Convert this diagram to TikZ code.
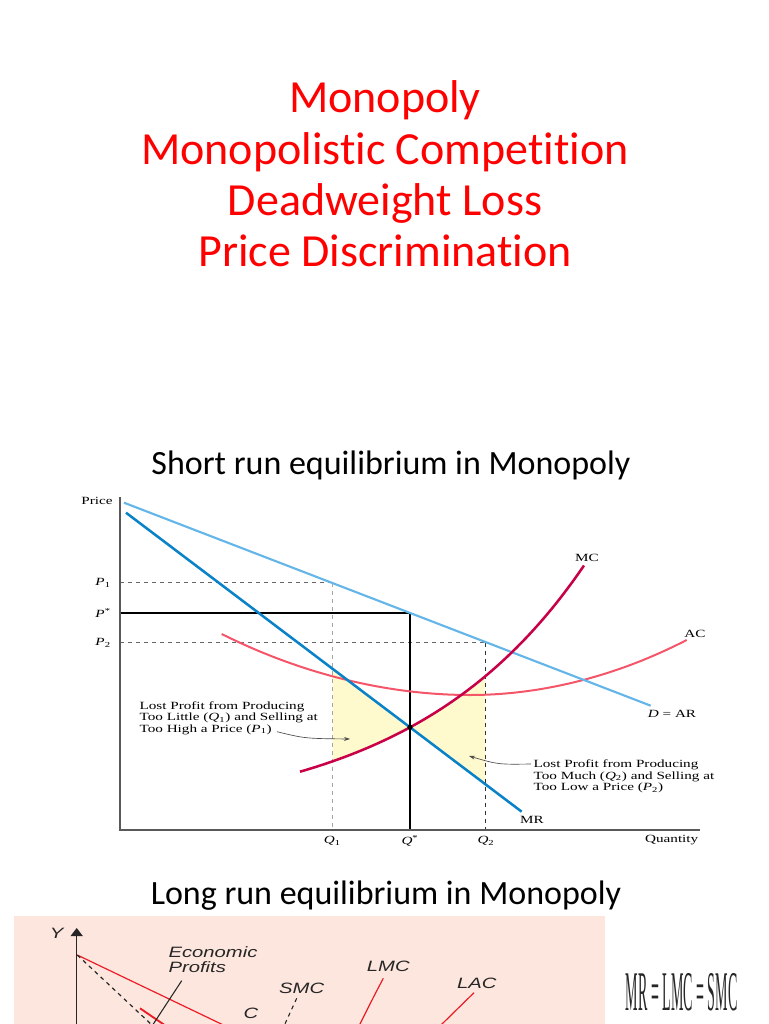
\documentclass[tikz,border=0pt]{standalone}
\usepackage{fontspec}
\setmainfont{Carlito}[Ligatures={NoCommon}]
\newfontfamily\graphfont[FakeStretch=1.38]{Liberation Serif}
\newfontfamily\longfont[FakeStretch=1.35]{Liberation Sans}
\newfontfamily\eqfont[FakeStretch=0.25]{Liberation Serif}
\usetikzlibrary{arrows.meta}

\definecolor{titlered}{RGB}{255,0,0}
\definecolor{demandblue}{RGB}{100,182,232}
\definecolor{mrblue}{RGB}{10,130,200}
\definecolor{mccrimson}{RGB}{200,0,72}
\definecolor{acpink}{RGB}{245,85,105}
\definecolor{lossyellow}{RGB}{255,250,205}
\definecolor{lrpink}{RGB}{253,230,222}
\definecolor{lrred}{RGB}{235,30,40}

\tikzset{
  titletext/.style={text=titlered, font=\fontsize{34.5}{38}\selectfont, inner sep=0pt},
  subtitle/.style={font=\fontsize{25.5}{30}\selectfont, inner sep=0pt},
  glabel/.style={font=\graphfont\fontsize{8.25}{8.8}\selectfont, inner sep=0.75pt},
  note/.style={glabel, align=left, inner sep=0pt},
  pointer/.style={draw=black!70, line width=0.5pt, -{Stealth[length=4.5pt,width=3pt]}},
  lrlabel/.style={font=\longfont\itshape\fontsize{11.25}{11.25}\selectfont, text=black!85, inner sep=0.75pt},
}

\begin{document}
\begin{tikzpicture}[x=0.75pt,y=0.75pt,yscale=-1,xscale=1,
  declare function={mr(\x)=512.7+0.7556*(\x-126); mc(\x)=771.7-50.7*(exp((\x-300)/175)-1);}]
\useasboundingbox (0,0) rectangle (768,1024);

% Text Node
\draw (385,113) node (title1) [anchor=base, titletext] {Monopoly};
% Text Node
\draw (385,164) node (title2) [anchor=base, titletext] {Monopolistic Competition};
% Text Node
\draw (385,215) node (title3) [anchor=base, titletext] {Deadweight Loss};
% Text Node
\draw (385,266) node (title4) [anchor=base, titletext] {Price Discrimination};
% Text Node
\draw (391,474) node (shortrun) [anchor=base, subtitle] {Short run equilibrium in Monopoly};

%Shape: deadweight loss between MR and MC
\fill [lossyellow] (332.3,{mr(332.3)}) -- (485,{mr(485)}) -- plot [domain=485:332.3, samples=40] (\x,{mc(\x)}) -- cycle ;

%Straight Lines: dashed guides
\draw [black!60, dashed, line width=0.6pt] (120,582.7) -- (332.3,582.7) ;
\draw [black!35, dashed, line width=0.6pt] (332.3,582.7) -- (332.3,830) ;
\draw [black!60, dashed, line width=0.6pt] (120,642.7) -- (485,642.7) ;
\draw [black!80, dashed, line width=0.6pt] (485,642.7) -- (485,830) ;
%Straight Lines: P* and Q*
\draw [black, line width=1.5pt] (120,613.3) -- (410,613.3) -- (410,830) ;

%Straight Lines: axes
\draw [black!65, line width=1.1pt] (120,497) -- (120,830) -- (700,830) ;

%Curve Lines: AC
\draw [acpink, line width=1.5pt] (221.7,634) parabola bend (470,695) (686.7,640) ;
%Straight Lines: D = AR
\draw [demandblue, line width=1.6pt] (124,502.7) -- (650.7,705.7) ;
%Straight Lines: MR
\draw [mrblue, line width=1.9pt] (126,512.7) -- (521.7,811.7) ;
%Curve Lines: MC
\draw [mccrimson, line width=1.9pt] plot [domain=300:584, samples=60] (\x,{mc(\x)}) ;
%Shape: Circle
\fill (410,727.3) circle (2.6) ;

% Text Node
\draw (97,501) node (pricelbl) [glabel] {Price};
% Text Node
\draw (112,582.7) node (p1lbl) [anchor=east, glabel] {\textit{P}\textsubscript{1}};
% Text Node
\draw (112,613.3) node (pstarlbl) [anchor=east, glabel] {\textit{P}\textsuperscript{*}};
% Text Node
\draw (112,642.7) node (p2lbl) [anchor=east, glabel] {\textit{P}\textsubscript{2}};
% Text Node
\draw (332.3,841) node (q1lbl) [glabel] {\textit{Q}\textsubscript{1}};
% Text Node
\draw (410,841) node (qstarlbl) [glabel] {\textit{Q}\textsuperscript{*}};
% Text Node
\draw (486,841) node (q2lbl) [glabel] {\textit{Q}\textsubscript{2}};
% Text Node
\draw (671.7,840) node (qtylbl) [glabel] {Quantity};
% Text Node
\draw (587,558) node (mclbl) [glabel] {MC};
% Text Node
\draw (695,634) node (aclbl) [glabel] {AC};
% Text Node
\draw (672,714.3) node (arlbl) [glabel] {\textit{D} = AR};
% Text Node
\draw (532,820) node (mrlbl) [glabel] {MR};

% Text Node
\draw (139.3,701) node (lostlittle) [anchor=north west, note] {Lost Profit from Producing\\Too Little (\textit{Q}\textsubscript{1}) and Selling at\\Too High a Price (\textit{P}\textsubscript{1})};
% Text Node
\draw (533.3,759.5) node (lostmuch) [anchor=north west, note] {Lost Profit from Producing\\Too Much (\textit{Q}\textsubscript{2}) and Selling at\\Too Low a Price (\textit{P}\textsubscript{2})};
%Curve Lines: pointers
\coordinate (littlefrom) at (277,731.7) ;
\coordinate (littleto) at (350,739) ;
\draw [pointer] (littlefrom) .. controls (305,738.5) .. (littleto) ;
\coordinate (muchfrom) at (531,764) ;
\coordinate (muchto) at (469,756) ;
\draw [pointer] (muchfrom) .. controls (498,764.5) .. (muchto) ;

% Text Node
\draw (386,904) node (longrun) [anchor=base, subtitle] {Long run equilibrium in Monopoly};

%Shape: Rectangle
\fill [lrpink] (14,916) rectangle (605,1030) ;
%Straight Lines: Y axis
\draw [black!85, line width=0.9pt, -{Triangle[width=9pt,length=6pt]}] (76.7,1030) -- (76.7,928) ;
%Straight Lines: demand
\draw [lrred, line width=0.9pt] (77.3,955) -- (224,1025.3) ;
\draw [black!85, dashed, line width=0.9pt] (77.3,955) -- (152.5,1025.5) ;
\draw [lrred, line width=1.4pt] (140,1008.3) -- (166,1026) ;
%Straight Lines: leader
\draw [black!85, line width=0.8pt] (181.7,980.7) -- (152,1026) ;
%Straight Lines: SMC
\draw [black!85, dashed, line width=0.8pt] (296.7,998.3) -- (284,1026) ;
%Curve Lines: LMC, LAC
\draw [lrred, line width=0.9pt] (383.3,978.3) .. controls (374,996) .. (359,1026) ;
\draw [lrred, line width=0.9pt] (474,992.7) -- (440,1026) ;

% Text Node
\draw (56.7,933.3) node (ylbl) [lrlabel] {Y};
% Text Node
\draw (167.3,945.6) node (profits) [anchor=north west, align=left, lrlabel] {Economic\\Profits};
% Text Node
\draw (301.7,988.3) node (smclbl) [lrlabel] {SMC};
% Text Node
\draw (388.3,966.7) node (lmclbl) [lrlabel] {LMC};
% Text Node
\draw (476.7,983.3) node (laclbl) [lrlabel] {LAC};
% Text Node
\draw (251,1008) node (cpoint) [anchor=north, lrlabel, inner sep=0pt] {C};

% Text Node
\draw (681.7,992) node (condition) [font=\eqfont\fontsize{42}{42}\selectfont, text=black!85, inner sep=0pt] {MR = LMC = SMC};

\end{tikzpicture}
\end{document}
